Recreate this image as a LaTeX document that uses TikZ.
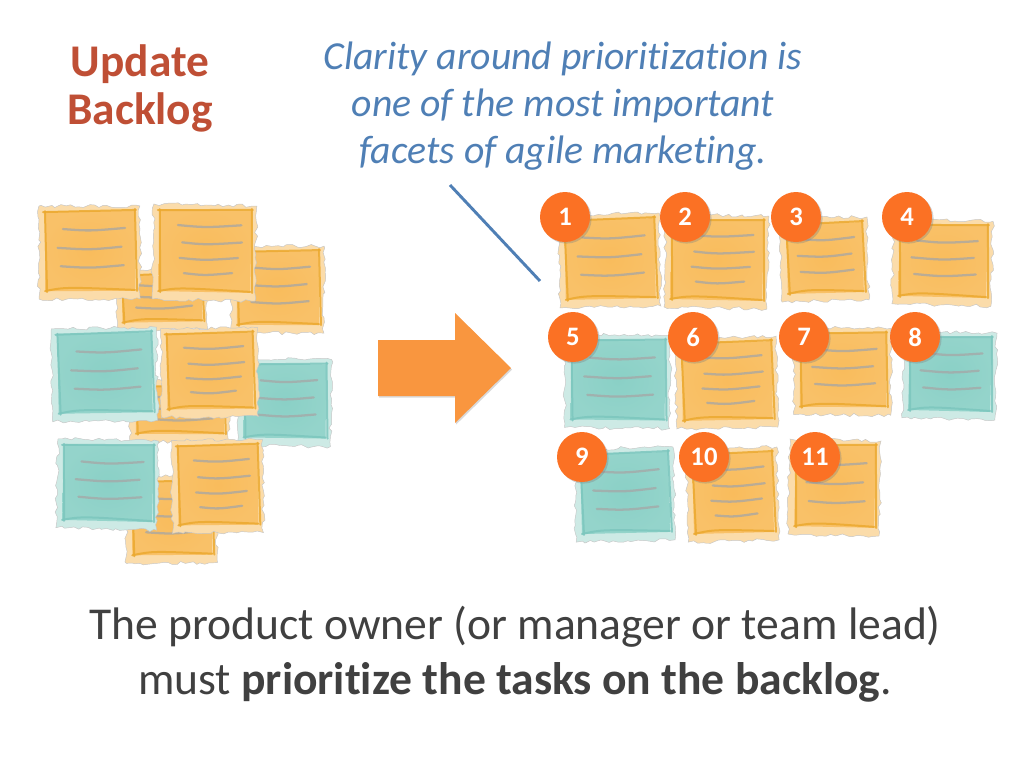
\documentclass[tikz,border=0pt]{standalone}
\usepackage{fontspec}
\setmainfont[Ligatures=NoCommon]{Carlito}
\usetikzlibrary{decorations.pathmorphing,shadows}
\definecolor{yellownote}{HTML}{F9BC5C}
\definecolor{yellowedge}{HTML}{EBA92F}
\definecolor{yellowhalo}{HTML}{FBDCAA}
\definecolor{tealnote}{HTML}{8AD0C6}
\definecolor{tealedge}{HTML}{7CC6BE}
\definecolor{tealhalo}{HTML}{CDEAE5}
\definecolor{badgefill}{HTML}{FB7124}
\definecolor{arrowfill}{HTML}{F9963F}
\definecolor{titlered}{HTML}{BF4F35}
\definecolor{calloutblue}{HTML}{4F7FB5}
\definecolor{bodygray}{HTML}{404040}
\tikzset{
  halo/.style={draw=gray!45,line width=0.35pt,decorate,decoration={random steps,segment length=3.5pt,amplitude=1.3pt}},
  noteedge/.style={line width=1.5pt,line cap=round,opacity=.85},
  noteline/.style={draw=gray!70,line width=1.7pt,line cap=round,opacity=.75},
  badge/.style={circle,fill=badgefill,text=white,minimum size=37.5pt,inner sep=0pt,font=\bfseries\fontsize{20}{20}\selectfont,drop shadow={shadow xshift=1.2pt,shadow yshift=-1.2pt,opacity=.35}}
}
\newcommand{\threelines}{-0.55/0.6/0.78,-0.08/0.72/0.7,0.38/0.65/0.75}
\newcommand{\fourlines}{-0.62/0.6/0.78,-0.2/0.5/0.8,0.18/0.55/0.72,0.55/0.45/0.6}
% note: lines, centre x, centre y, half width, half height, colour
\newcommand{\stickynote}[6][\threelines]{
  \pgfmathsetmacro{\tilt}{rand*1.5}
  \begin{scope}[shift={(#2,#3)},rotate=\tilt]
    \fill[#6halo,halo] (-#4-6,-#5-5) rectangle (#4+5,#5+8);
    \shade[inner color=#6note,outer color=#6note!85!#6halo] (-#4,-#5) rectangle (#4,#5);
    \draw[#6edge,noteedge] (-#4,-#5) -- (-#4+2,#5+1);
    \draw[#6edge,noteedge] (-#4-2,-#5+1) -- (#4+1,-#5-1);
    \draw[#6edge,noteedge] (#4,-#5-2) -- (#4+2,#5);
    \draw[#6edge,noteedge] (-#4,#5) .. controls (-#4+20,#5-4) .. (#4,#5-1);
    \foreach \ly/\la/\lb in #1
      \draw[noteline] (-#4*\la,#5*\ly) .. controls (0,#5*\ly+2) .. (#4*\lb,#5*\ly-1);
  \end{scope}
}
\begin{document}
\begin{tikzpicture}[x=0.75pt,y=-0.75pt]
\pgfmathsetseed{11}
\useasboundingbox (0,0) rectangle (1024,768);

% left pile
\stickynote{162}{298}{40}{24}{yellow}
\stickynote{278}{288}{41}{37}{yellow}
\stickynote{90}{251}{45}{40}{yellow}
\stickynote[\fourlines]{205}{251}{46}{41}{yellow}
\stickynote{180}{410}{44}{24}{yellow}
\stickynote{285}{401}{41}{37}{teal}
\stickynote{105}{373}{47}{40}{teal}
\stickynote[\fourlines]{210}{371}{43}{38}{yellow}
\stickynote{172}{518}{40}{37}{yellow}
\stickynote{108}{483}{45}{38}{teal}
\stickynote[\fourlines]{218}{485}{40}{40}{yellow}

% right side
\stickynote{610}{259}{45}{40}{yellow}
\stickynote[\fourlines]{717}{260}{46}{40}{yellow}
\stickynote{825}{258}{38}{35}{yellow}
\stickynote{943}{261}{44}{36}{yellow}
\stickynote{618}{380}{47}{40}{teal}
\stickynote[\fourlines]{727}{381}{45}{39}{yellow}
\stickynote{843}{370}{43}{37}{yellow}
\stickynote{950}{374}{41}{37}{teal}
\stickynote{625}{493}{44}{40}{teal}
\stickynote[\fourlines]{733}{493}{40}{40}{yellow}
\stickynote{835}{486}{40}{41}{yellow}

\foreach \bname/\bx/\by in {1/565/217,2/685/217,3/796/217,4/907/217,5/573/337,6/693/337,7/804/337,8/915/337,9/582/457,10/704/457,11/815/457}
  \node[badge] (badge\bname) at (\bx,\by) {\bname};

% arrow
\fill[arrowfill,drop shadow={shadow xshift=0.8pt,shadow yshift=-1.2pt,opacity=.3}] (378,340) -- (455,340) -- (455,313) -- (511,368) -- (455,423) -- (455,396) -- (378,396) -- cycle;

\coordinate (calloutstart) at (450,185);
\coordinate (calloutend) at (540,281);
\draw[calloutblue,line width=2.2pt] (calloutstart) -- (calloutend);

\node[text=titlered,align=center,font=\bfseries\fontsize{34}{36}\selectfont] (title) at (140,88) {Update\\Backlog};
\node[text=calloutblue,align=center,font=\itshape\fontsize{29.8}{35.5}\selectfont] (callout) at (563,106) {Clarity around prioritization is\\one of the most important\\facets of agile marketing.};
\node[text=bodygray,align=center,font=\fontsize{34.2}{41}\selectfont] (body) at (515,654) {The product owner (or manager or team lead)\\must \textbf{prioritize the tasks on the backlog}.};
\end{tikzpicture}
\end{document}
